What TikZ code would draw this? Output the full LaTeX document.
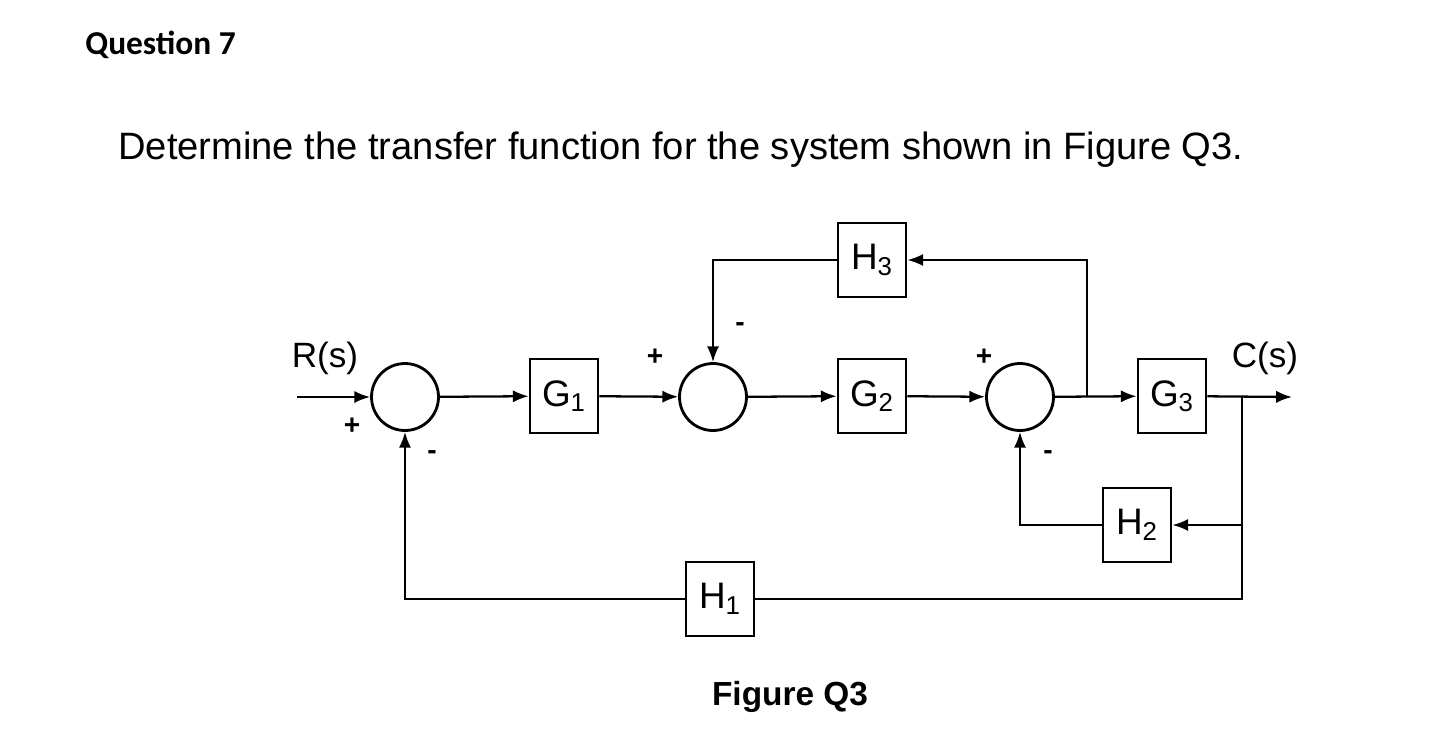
\documentclass[tikz,border=0pt]{standalone}
\usepackage{fontspec}
\setmainfont{Liberation Sans}
\newfontfamily\carl{Carlito}
\usetikzlibrary{arrows.meta}
\begin{document}
\begin{tikzpicture}[x=0.02cm,y=-0.02cm,
  sumj/.style={circle,draw,line width=1.6pt,minimum size=1.34cm,inner sep=0},
  blk/.style={draw,line width=1.6pt,minimum width=1.36cm,minimum height=1.48cm,inner sep=0,font=\fontsize{21}{24}\selectfont},
  ln/.style={line width=1.3pt},
  ar/.style={line width=1.3pt,-{Latex[length=9pt,width=7pt]}},
  sg/.style={font=\bfseries\fontsize{16}{18}\selectfont,inner sep=0},
  lb/.style={font=\fontsize{20}{24}\selectfont,inner sep=0}]
\useasboundingbox (0,0) rectangle (1434,738);
\node[anchor=west,inner sep=0,font=\carl\bfseries\fontsize{19}{22}\selectfont] (q) at (85,45) {Question 7};
\node[anchor=west,inner sep=0,font=\fontsize{21.7}{26}\selectfont] (t) at (118,150) {Determine the transfer function for the system shown in Figure Q3.};
\node[sumj] (s1) at (405,397) {};
\node[sumj] (s2) at (713,397) {};
\node[sumj] (s3) at (1020,397) {};
\node[blk] (g1) at (564,396) {G\textsubscript{1}};
\node[blk] (g2) at (872,396) {G\textsubscript{2}};
\node[blk] (g3) at (1172,396) {G\textsubscript{3}};
\node[blk] (h3) at (872,260) {H\textsubscript{3}};
\node[blk] (h2) at (1137,525) {H\textsubscript{2}};
\node[blk] (h1) at (720,599) {H\textsubscript{1}};
\coordinate (in) at (297,397);
\coordinate (out) at (1292,397);
\coordinate (j1) at (1087,397);
\coordinate (j2) at (1242,397);
\draw[ar] (in) -- (s1);
\draw[ar] (s1) -- (g1);
\draw[ar] (g1) -- (s2);
\draw[ar] (s2) -- (g2);
\draw[ar] (g2) -- (s3);
\draw[ar] (s3) -- (g3);
\draw[ar] (g3) -- (out);
\draw[ar] (j1) |- (h3.east);
\draw[ar] (h3.west) -| (s2.north);
\draw[ar] (j2) |- (h2.east);
\draw[ar] (h2.west) -| (s3.south);
\draw[ln] (j2) |- (h1.east);
\draw[ar] (h1.west) -| (s1.south);
\node[sg] at (352,426) {+};
\node[sg] at (432,455) {-};
\node[sg] at (655,357) {+};
\node[sg] at (740,327) {-};
\node[sg] at (984,357) {+};
\node[sg] at (1048,455) {-};
\node[lb] (r) at (325,358) {R(s)};
\node[lb] (c) at (1265,358) {C(s)};
\node[font=\bfseries\fontsize{19}{22}\selectfont] (f) at (790,697) {Figure Q3};
\end{tikzpicture}
\end{document}
